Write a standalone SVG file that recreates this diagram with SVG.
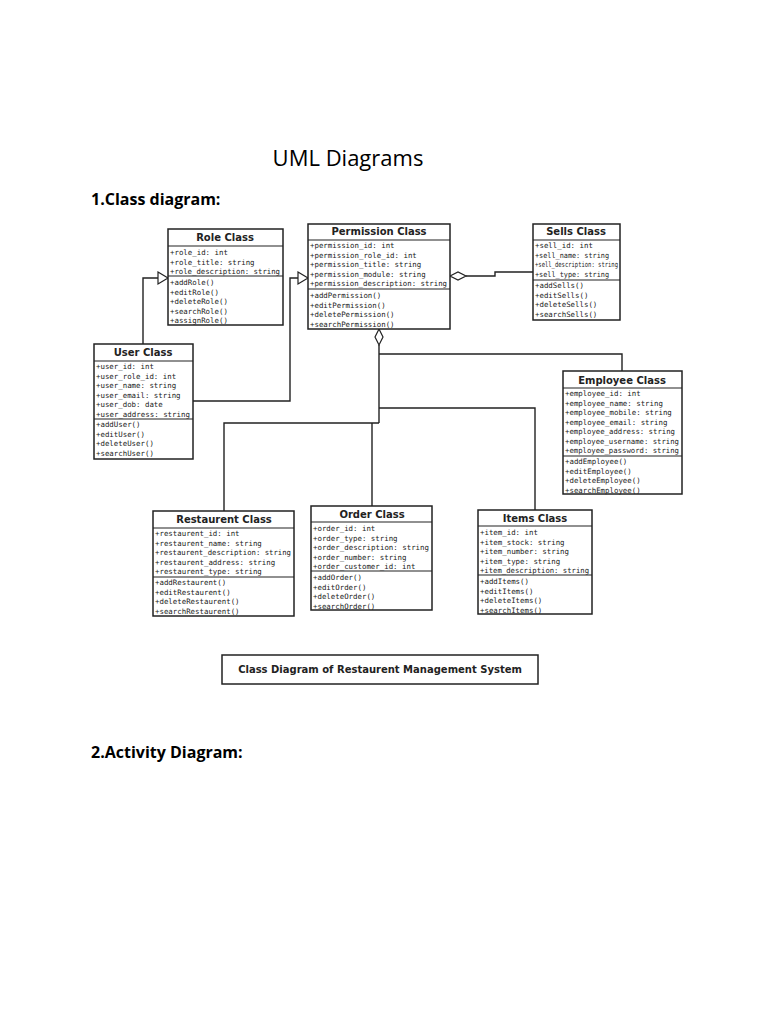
<svg xmlns="http://www.w3.org/2000/svg" width="768" height="1024" viewBox="0 0 768 1024">
<style>
.box{fill:#fff;stroke:#222;stroke-width:1.5}
.ln{stroke:#222;stroke-width:1.2}
.h{font-family:"DejaVu Sans",sans-serif;font-weight:bold;font-size:10px;fill:#222;text-anchor:middle}
.t{font-family:"DejaVu Sans Mono",monospace;font-size:7.4px;fill:#222}
.c{fill:none;stroke:#222;stroke-width:1.4}
.doc{font-family:"Open Sans","Liberation Sans",sans-serif;fill:#000}
</style>
<rect width="768" height="1024" fill="#fff"/>
<text class="doc" x="348" y="166" font-size="22" text-anchor="middle">UML Diagrams</text>
<text class="doc" x="91" y="205" font-size="16" font-weight="bold">1.Class diagram:</text>
<text class="doc" x="91" y="758" font-size="16" font-weight="bold">2.Activity Diagram:</text>

<g id="connectors">
<polyline class="c" points="143,344 143,278 158,278"/>
<polygon points="158,272 168,278 158,284" fill="#fff" stroke="#222" stroke-width="1.2"/>
<polyline class="c" points="193,401 290,401 290,278 298,278"/>
<polygon points="298,272 308,278 298,284" fill="#fff" stroke="#222" stroke-width="1.2"/>
<polyline class="c" points="466,276 495,276 495,272 533,272"/>
<polygon points="450,276 458,272 466,276 458,280" fill="#fff" stroke="#222" stroke-width="1.2"/>
<polygon points="379,329 383,337 379,345 375,337" fill="#fff" stroke="#222" stroke-width="1.2"/>
<polyline class="c" points="379,345 379,423"/>
<polyline class="c" points="379,354 622,354 622,371"/>
<polyline class="c" points="379,408 535,408 535,510"/>
<polyline class="c" points="224,511 224,423 379,423"/>
<polyline class="c" points="372,423 372,506"/>
</g>

<g id="role">
<rect class="box" x="168" y="229" width="115" height="96"/>
<line class="ln" x1="168" y1="246" x2="283" y2="246"/><line class="ln" x1="168" y1="276" x2="283" y2="276"/>
<text class="h" x="225" y="241">Role Class</text>
<text class="t" x="170" y="255">+role_id: int</text>
<text class="t" x="170" y="264.5">+role_title: string</text>
<text class="t" x="170" y="274" textLength="110" lengthAdjust="spacingAndGlyphs">+role_description: string</text>
<text class="t" x="170" y="285">+addRole()</text>
<text class="t" x="170" y="294.5">+editRole()</text>
<text class="t" x="170" y="304">+deleteRole()</text>
<text class="t" x="170" y="313.5">+searchRole()</text>
<text class="t" x="170" y="323">+assignRole()</text>
</g>

<g id="permission">
<rect class="box" x="308" y="224" width="142" height="105"/>
<line class="ln" x1="308" y1="240" x2="450" y2="240"/><line class="ln" x1="308" y1="289" x2="450" y2="289"/>
<text class="h" x="379" y="235">Permission Class</text>
<text class="t" x="310" y="248">+permission_id: int</text>
<text class="t" x="310" y="257.5">+permission_role_id: int</text>
<text class="t" x="310" y="267">+permission_title: string</text>
<text class="t" x="310" y="276.5">+permission_module: string</text>
<text class="t" x="310" y="286" textLength="137" lengthAdjust="spacingAndGlyphs">+permission_description: string</text>
<text class="t" x="310" y="298">+addPermission()</text>
<text class="t" x="310" y="307.5">+editPermission()</text>
<text class="t" x="310" y="317">+deletePermission()</text>
<text class="t" x="310" y="326.5">+searchPermission()</text>
</g>

<g id="sells">
<rect class="box" x="533" y="224" width="87" height="96"/>
<line class="ln" x1="533" y1="240" x2="620" y2="240"/><line class="ln" x1="533" y1="280" x2="620" y2="280"/>
<text class="h" x="576" y="235">Sells Class</text>
<text class="t" x="535" y="248">+sell_id: int</text>
<text class="t" x="535" y="257.5" textLength="74" lengthAdjust="spacingAndGlyphs">+sell_name: string</text>
<text class="t" x="535" y="267" textLength="83" lengthAdjust="spacingAndGlyphs">+sell_description: string</text>
<text class="t" x="535" y="276.5" textLength="74" lengthAdjust="spacingAndGlyphs">+sell_type: string</text>
<text class="t" x="535" y="288">+addSells()</text>
<text class="t" x="535" y="297.5">+editSells()</text>
<text class="t" x="535" y="307">+deleteSells()</text>
<text class="t" x="535" y="316.5">+searchSells()</text>
</g>

<g id="user">
<rect class="box" x="94" y="344" width="99" height="115"/>
<line class="ln" x1="94" y1="361" x2="193" y2="361"/><line class="ln" x1="94" y1="419" x2="193" y2="419"/>
<text class="h" x="143" y="356">User Class</text>
<text class="t" x="96" y="369">+user_id: int</text>
<text class="t" x="96" y="378.5">+user_role_id: int</text>
<text class="t" x="96" y="388">+user_name: string</text>
<text class="t" x="96" y="397.5">+user_email: string</text>
<text class="t" x="96" y="407">+user_dob: date</text>
<text class="t" x="96" y="416.5" textLength="94" lengthAdjust="spacingAndGlyphs">+user_address: string</text>
<text class="t" x="96" y="427">+addUser()</text>
<text class="t" x="96" y="436.5">+editUser()</text>
<text class="t" x="96" y="446">+deleteUser()</text>
<text class="t" x="96" y="455.5">+searchUser()</text>
</g>

<g id="employee">
<rect class="box" x="563" y="371" width="119" height="123"/>
<line class="ln" x1="563" y1="388" x2="682" y2="388"/><line class="ln" x1="563" y1="456" x2="682" y2="456"/>
<text class="h" x="622" y="384">Employee Class</text>
<text class="t" x="565" y="396">+employee_id: int</text>
<text class="t" x="565" y="405.5">+employee_name: string</text>
<text class="t" x="565" y="415">+employee_mobile: string</text>
<text class="t" x="565" y="424.5">+employee_email: string</text>
<text class="t" x="565" y="434" textLength="110" lengthAdjust="spacingAndGlyphs">+employee_address: string</text>
<text class="t" x="565" y="443.5" textLength="114" lengthAdjust="spacingAndGlyphs">+employee_username: string</text>
<text class="t" x="565" y="453" textLength="114" lengthAdjust="spacingAndGlyphs">+employee_password: string</text>
<text class="t" x="565" y="464">+addEmployee()</text>
<text class="t" x="565" y="473.5">+editEmployee()</text>
<text class="t" x="565" y="483">+deleteEmployee()</text>
<text class="t" x="565" y="492.5">+searchEmployee()</text>
</g>

<g id="restaurent">
<rect class="box" x="153" y="511" width="141" height="105"/>
<line class="ln" x1="153" y1="528" x2="294" y2="528"/><line class="ln" x1="153" y1="577" x2="294" y2="577"/>
<text class="h" x="224" y="523">Restaurent Class</text>
<text class="t" x="155" y="536">+restaurent_id: int</text>
<text class="t" x="155" y="545.5">+restaurent_name: string</text>
<text class="t" x="155" y="555" textLength="136" lengthAdjust="spacingAndGlyphs">+restaurent_description: string</text>
<text class="t" x="155" y="564.5">+restaurent_address: string</text>
<text class="t" x="155" y="574">+restaurent_type: string</text>
<text class="t" x="155" y="585">+addRestaurent()</text>
<text class="t" x="155" y="594.5">+editRestaurent()</text>
<text class="t" x="155" y="604">+deleteRestaurent()</text>
<text class="t" x="155" y="613.5">+searchRestaurent()</text>
</g>

<g id="order">
<rect class="box" x="311" y="506" width="121" height="104"/>
<line class="ln" x1="311" y1="522" x2="432" y2="522"/><line class="ln" x1="311" y1="571" x2="432" y2="571"/>
<text class="h" x="372" y="518">Order Class</text>
<text class="t" x="313" y="531">+order_id: int</text>
<text class="t" x="313" y="540.5">+order_type: string</text>
<text class="t" x="313" y="550" textLength="116" lengthAdjust="spacingAndGlyphs">+order_description: string</text>
<text class="t" x="313" y="559.5">+order_number: string</text>
<text class="t" x="313" y="569">+order_customer_id: int</text>
<text class="t" x="313" y="580">+addOrder()</text>
<text class="t" x="313" y="589.5">+editOrder()</text>
<text class="t" x="313" y="599">+deleteOrder()</text>
<text class="t" x="313" y="608.5">+searchOrder()</text>
</g>

<g id="items">
<rect class="box" x="478" y="510" width="114" height="104"/>
<line class="ln" x1="478" y1="526" x2="592" y2="526"/><line class="ln" x1="478" y1="575" x2="592" y2="575"/>
<text class="h" x="535" y="522">Items Class</text>
<text class="t" x="480" y="535">+item_id: int</text>
<text class="t" x="480" y="544.5">+item_stock: string</text>
<text class="t" x="480" y="554">+item_number: string</text>
<text class="t" x="480" y="563.5">+item_type: string</text>
<text class="t" x="480" y="573" textLength="109" lengthAdjust="spacingAndGlyphs">+item_description: string</text>
<text class="t" x="480" y="584">+addItems()</text>
<text class="t" x="480" y="593.5">+editItems()</text>
<text class="t" x="480" y="603">+deleteItems()</text>
<text class="t" x="480" y="612.5">+searchItems()</text>
</g>

<g id="caption">
<rect class="box" x="222" y="655" width="316" height="29"/>
<text class="h" x="380" y="673" font-size="8.5">Class Diagram of Restaurent Management System</text>
</g>
</svg>
